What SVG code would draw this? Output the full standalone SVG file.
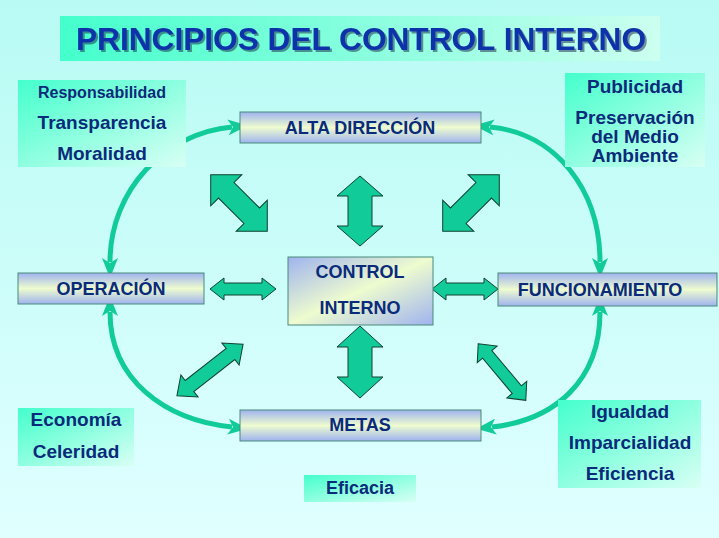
<svg xmlns="http://www.w3.org/2000/svg" width="719" height="538" viewBox="0 0 719 538">
<defs>
<linearGradient id="bg" x1="0" y1="0" x2="0" y2="1"><stop offset="0" stop-color="#b8fbf4"/><stop offset="1" stop-color="#e0ffff"/></linearGradient>
<linearGradient id="box" x1="0" y1="0" x2="0" y2="1"><stop offset="0" stop-color="#9fb3ef"/><stop offset="0.5" stop-color="#eefccf"/><stop offset="1" stop-color="#9fb3ef"/></linearGradient>
<linearGradient id="ci" x1="0" y1="0" x2="1" y2="1"><stop offset="0" stop-color="#9fb3ef"/><stop offset="0.5" stop-color="#eefccf"/><stop offset="1" stop-color="#9fb3ef"/></linearGradient>
<linearGradient id="gr" x1="0" y1="0" x2="1" y2="1"><stop offset="0" stop-color="#44ffcc"/><stop offset="1" stop-color="#d8fff4"/></linearGradient>
<linearGradient id="gt" x1="0" y1="0" x2="1" y2="0"><stop offset="0" stop-color="#44ffcc"/><stop offset="1" stop-color="#ccfff0"/></linearGradient>
<marker id="ah" viewBox="0 0 20 16" refX="4" refY="8" markerWidth="20" markerHeight="16" markerUnits="userSpaceOnUse" orient="auto-start-reverse"><path d="M0,0 L20,8 L0,16 L5,8 Z" fill="#11cc99"/></marker>
<filter id="sh" x="-5%" y="-20%" width="110%" height="140%"><feDropShadow dx="2" dy="2" stdDeviation="0.5" flood-color="#0a1a40" flood-opacity="0.5"/></filter>
</defs>
<style>
.b{stroke:#4a8a7a;stroke-width:1}
.t{font-family:"Liberation Sans",Arial,sans-serif;font-weight:bold;fill:#0a2a7a;text-anchor:middle}
.a{fill:#11cc99;stroke:#104030;stroke-width:1}
.c{fill:none;stroke:#11cc99;stroke-width:5}
</style>
<rect width="719" height="538" fill="url(#bg)"/>
<g id="title"><rect x="60" y="16" width="600" height="45" fill="url(#gt)"/>
<text x="361" y="50" class="t" font-size="31" style="fill:#1133aa" filter="url(#sh)" textLength="570" lengthAdjust="spacingAndGlyphs">PRINCIPIOS  DEL CONTROL INTERNO</text></g>
<g id="connectors">
<path class="c" d="M110 262 C110 190,165 133,232 127" marker-start="url(#ah)" marker-end="url(#ah)"/>
<path class="c" d="M490 127 C556 133,600 190,600 262" marker-start="url(#ah)" marker-end="url(#ah)"/>
<path class="c" d="M600 312 C600 380,556 420,492 427" marker-start="url(#ah)" marker-end="url(#ah)"/>
<path class="c" d="M232 427 C165 420,110 380,110 312" marker-start="url(#ah)" marker-end="url(#ah)"/>
<polygon class="a" transform="translate(243,289)" points="-33,0 -19,-11 -19,-6 19,-6 19,-11 33,0 19,11 19,6 -19,6 -19,11"/>
<polygon class="a" transform="translate(465,289)" points="-33,0 -19,-11 -19,-6 19,-6 19,-11 33,0 19,11 19,6 -19,6 -19,11"/>
<polygon class="a" transform="translate(360,211) rotate(90)" points="-35,0 -15,-23 -15,-12 15,-12 15,-23 35,0 15,23 15,12 -15,12 -15,23"/>
<polygon class="a" transform="translate(360,362) rotate(90)" points="-36,0 -15,-23 -15,-12 15,-12 15,-23 36,0 15,23 15,12 -15,12 -15,23"/>
<polygon class="a" transform="translate(239,203) rotate(45)" points="-40,0 -18,-22 -18,-11 18,-11 18,-22 40,0 18,22 18,11 -18,11 -18,22"/>
<polygon class="a" transform="translate(471,203) rotate(-45)" points="-40,0 -18,-22 -18,-11 18,-11 18,-22 40,0 18,22 18,11 -18,11 -18,22"/>
<polygon class="a" transform="translate(210,370) rotate(-38)" points="-42,0 -26,-14 -26,-7 26,-7 26,-14 42,0 26,14 26,7 -26,7 -26,14"/>
<polygon class="a" transform="translate(502,372) rotate(50)" points="-37,0 -23,-13 -23,-6 23,-6 23,-13 37,0 23,13 23,6 -23,6 -23,13"/>
</g>
<g id="alta"><rect class="b" x="240" y="112" width="241" height="31" fill="url(#box)"/><text class="t" x="360" y="134" font-size="18">ALTA DIRECCIÓN</text></g>
<g id="operacion"><rect class="b" x="18" y="273" width="186" height="31" fill="url(#box)"/><text class="t" x="111" y="295" font-size="18">OPERACIÓN</text></g>
<g id="control"><rect class="b" x="288" y="257" width="145" height="68" fill="url(#ci)"/><text class="t" x="360" y="278" font-size="18">CONTROL</text><text class="t" x="360" y="314" font-size="18">INTERNO</text></g>
<g id="funcionamiento"><rect class="b" x="498" y="273" width="219" height="33" fill="url(#box)"/><text class="t" x="600" y="296" font-size="18">FUNCIONAMIENTO</text></g>
<g id="metas"><rect class="b" x="240" y="410" width="241" height="31" fill="url(#box)"/><text class="t" x="360" y="431" font-size="18">METAS</text></g>
<g id="p1"><rect x="18" y="80" width="168" height="87" fill="url(#gr)"/><text class="t" x="102" y="98" font-size="16">Responsabilidad</text><text class="t" x="102" y="129" font-size="19">Transparencia</text><text class="t" x="102" y="160" font-size="19">Moralidad</text></g>
<g id="p2"><rect x="565" y="73" width="140" height="94" fill="url(#gr)"/><text class="t" x="635" y="93" font-size="19">Publicidad</text><text class="t" x="635" y="124" font-size="19">Preservación</text><text class="t" x="635" y="143" font-size="19">del Medio</text><text class="t" x="635" y="162" font-size="19">Ambiente</text></g>
<g id="p3"><rect x="18" y="408" width="116" height="58" fill="url(#gr)"/><text class="t" x="76" y="426" font-size="19">Economía</text><text class="t" x="76" y="458" font-size="19">Celeridad</text></g>
<g id="p4"><rect x="558" y="400" width="143" height="88" fill="url(#gr)"/><text class="t" x="630" y="418" font-size="19">Igualdad</text><text class="t" x="630" y="449" font-size="19">Imparcialidad</text><text class="t" x="630" y="480" font-size="19">Eficiencia</text></g>
<g id="p5"><rect x="304" y="475" width="112" height="27" fill="url(#gr)"/><text class="t" x="360" y="494" font-size="18">Eficacia</text></g>
</svg>
